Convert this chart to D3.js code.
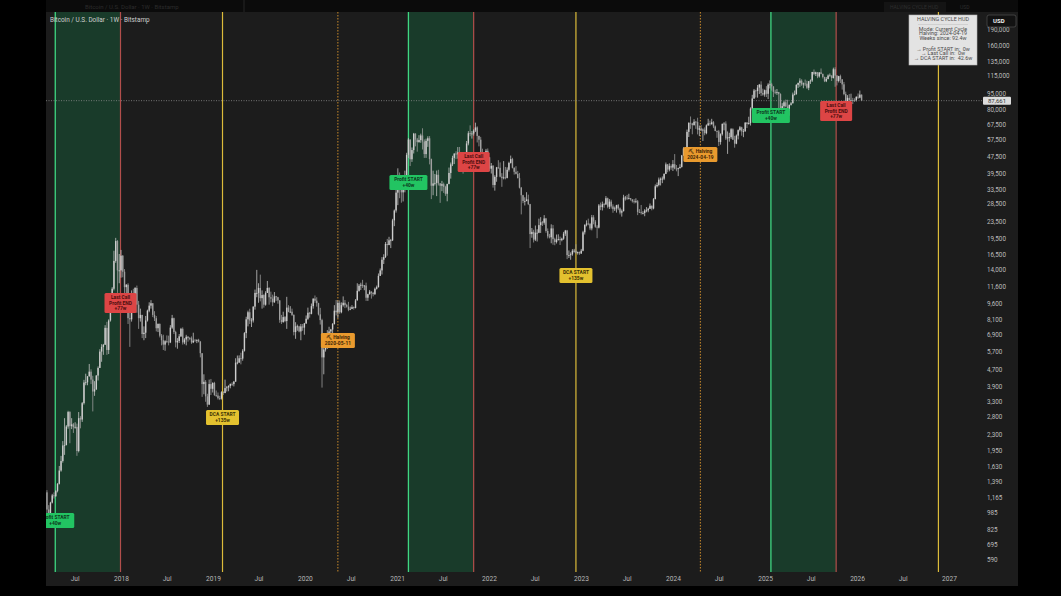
<!DOCTYPE html>
<html><head><meta charset="utf-8">
<script src="https://cdn.jsdelivr.net/npm/d3@7"></script>
<style>
html,body{margin:0;padding:0;background:#000;overflow:hidden}
svg{display:block}
text{font-family:Roboto,"Liberation Sans","DejaVu Sans",sans-serif}
</style>
</head><body>
<svg id="c" width="1061" height="596"></svg>
<script>
// ---------------- DATA ----------------
const title = "Bitcoin / U.S. Dollar · 1W · Bitstamp";
const firstWeek = "2017-03-13";   // Monday of first weekly candle
const firstOpen = 1230;

// weekly closes (USD), 2017-03-13 .. 2026-01-19
const closes = [
 1020,965,1100,1190,1180,1250,1350,1560,1730,2050,2060,2520,2950,2530,2580,2500,2510,1930,2760,2720,3250,4070,4080,4350,4580,4200,3690,3780,4390,4770,5700,6000,6140,7380,5800,8000,9700,11300,15300,19000,13800,13800,
 16200,13600,11500,11800,8200,8100,10300,9600,11400,9500,8200,8500,6900,7000,8000,8900,9400,9650,8500,8200,7350,7700,6780,6450,6150,6380,6350,6300,7400,8200,7050,6300,6400,6730,7300,6300,6500,6700,6600,6580,6300,6420,6410,6480,6350,5600,4000,4100,3500,3200,4000,3800,4050,
 3550,3530,3430,3420,3660,3630,3830,3860,3920,4010,4000,4110,5050,5060,5300,5280,5750,6970,8100,8750,8000,8000,9300,10800,10800,11400,10200,10550,9500,10800,11400,10300,10150,9750,10400,10300,9950,8050,7870,8300,7950,9200,8800,8800,8500,7050,7500,7500,7100,7500,7400,7750,
 8150,8700,8600,9350,10150,9920,9660,8550,8030,5350,5830,6250,6780,7100,7250,7700,8900,8750,9700,8750,9450,9700,9450,9300,9000,9080,9250,9170,9950,11050,11680,11800,11650,11700,10250,10650,10950,10800,10660,11300,11500,13000,13800,15500,15950,18400,18200,19150,19150,23800,26500,32200,
 38200,36000,32300,34300,39000,48600,57400,46300,51200,61200,57400,55800,57100,60000,56200,49000,56600,58200,46400,34700,35600,35800,39100,35600,34700,35300,34300,31800,35400,39900,43800,47000,49300,48800,49900,48300,47300,42700,48200,55000,61500,60900,61300,63300,65500,59700,57300,49400,48900,46700,50800,47300,
 41800,43100,35000,38200,42400,42200,38300,37700,38000,37800,41300,44500,46400,42200,40400,39500,37700,34000,31300,29400,29400,29900,28400,20500,21000,19300,20800,20800,22600,23300,23200,24300,21200,20000,19800,21800,19400,18800,19300,19400,19200,19500,20600,21300,16300,16300,16450,17100,17100,16750,16850,16600,
 17100,20900,22700,23000,22900,21800,24600,23500,22200,22000,28000,27500,28400,28300,30300,27600,29200,27700,26900,27100,28100,27100,25900,26300,30500,30500,30200,30300,29900,29300,29100,29300,26100,26000,25800,25800,26500,26550,27000,27900,27100,30000,34500,35000,37100,37400,37500,39500,43800,41400,43000,42300,
 43900,41800,41600,42000,42600,48300,52100,51700,62400,68900,68400,67200,69700,69400,63900,64900,63400,63900,61500,67000,68500,67800,69300,66200,63000,62700,55900,60800,68100,68300,58100,58700,58900,64200,57300,54900,59900,63600,65600,62800,62900,69000,68000,68700,80400,89800,97900,97400,101100,104400,95200,93700,98300,
 94500,104400,104700,102400,96500,96100,96300,94200,80600,82600,86100,82400,78400,83800,85200,93700,94300,104100,106400,109000,104700,105700,105500,100900,108400,109200,119800,117300,119400,114200,119300,117400,113500,108300,111100,115300,115300,112200,123500,115200,108700,114500,110600,104700,94200,86800,90400,88200,88200,88100,87800,91500,
 90600,93600,87661
];
const highs = [
 1260,1070,1110,1210,1230,1260,1360,1640,1830,2150,2760,2560,2990,2980,2760,2620,2640,2600,2950,2820,3290,4190,4480,4370,4980,4700,4380,4130,4410,4850,5850,6180,6200,7600,7880,8100,9750,11500,17100,19670,19200,16500,
 17250,16300,14000,11900,12000,9000,11100,11300,11500,11700,9900,9100,8500,7500,8400,9000,9750,9980,9650,8850,8400,7750,7750,6900,6850,6450,6800,6780,7600,8500,8250,7150,6600,6900,7380,7420,6600,6840,6750,6680,6720,7000,6540,6500,6550,6400,5600,4450,4180,3600,4200,4230,4080,
 4100,3730,3650,3520,3700,3700,4200,3920,3950,4020,4080,4140,5300,5460,5470,5630,5850,7050,8330,8900,9090,8200,9330,11200,13880,12000,13180,11100,10650,11000,12300,11500,10950,10600,10900,10450,10350,10000,8500,8800,8400,10350,9450,9350,9100,8550,7850,7650,7550,7700,7700,7790,
 8450,9200,8780,9620,10170,10500,10300,9700,9180,8150,6900,6950,7200,7470,7300,7780,9450,10000,9950,9950,9740,10400,10000,9590,9800,9300,9450,9320,10100,12000,11900,12070,12450,11750,12080,10700,11150,11000,10920,11450,11700,13350,14100,15950,16450,18800,19450,19900,19450,24200,26800,33300,
 41950,40100,37850,38550,40900,49700,58350,57500,52650,61700,61500,58400,60200,61200,64900,57500,57950,59500,59600,46650,40900,39450,40950,41300,35750,36600,35900,34700,35450,42300,44700,48100,49350,50500,52900,52950,48800,47350,49200,56500,62900,67000,63000,64200,69000,66300,59900,59100,51950,50000,51850,52100,
 47500,44450,43500,38900,42600,45850,44750,39800,45400,42600,42400,45100,48200,47050,42400,42950,40800,39900,34250,31450,30600,32350,31500,28500,21900,21500,22500,21600,24250,24650,23650,25200,24450,21800,20550,22800,22650,19700,20400,20450,19950,19700,21000,21450,21450,17150,16800,17400,17450,18350,16950,16950,
 17450,21250,22750,23800,24250,23150,25250,25200,23900,22600,28450,28900,29200,28800,31000,30500,30000,29800,28350,27650,28200,28450,27400,26800,31450,31050,31400,31800,30350,29950,30000,30250,29700,26900,28150,26300,26900,27500,27300,28600,28000,30350,35200,35950,37950,37950,38400,39700,44700,43950,44300,43800,
 45900,49000,43500,42250,43850,48550,52850,52900,64000,69200,73800,68900,71650,70300,72800,66850,67200,64750,65500,67700,71950,70600,71950,70200,66950,63400,63750,61400,68350,69350,70000,62700,61800,65000,64900,59800,60650,64100,66500,66000,64450,69400,69500,73600,81500,93450,99600,98700,104000,105200,108300,99900,99000,
 102700,106000,109350,106450,102500,98800,99500,96500,95000,85300,87450,88750,88500,84000,86500,95750,97900,104900,106650,111900,110700,106800,110400,108900,108500,110500,120000,123200,120200,119800,119450,124500,117600,113800,113400,116700,117900,115500,125600,126200,116000,114900,116400,110800,107500,96700,93100,94200,94600,90400,90000,91800,
 94800,97900,93800
];
const lows = [
 930,890,940,1090,1150,1170,1230,1340,1540,1700,1850,2050,2460,2100,2450,2350,2460,1830,1900,2470,2650,3200,3950,3950,4350,4000,2970,3520,3750,4160,4770,5100,5500,6130,5500,5550,7900,9000,11100,15000,10800,12000,
 12750,12800,9000,10000,7700,6000,7900,9300,9400,8700,7300,7900,6600,6450,6600,7900,8750,9100,8300,7950,7100,7050,6650,6100,5800,5750,6250,6100,6250,7300,6900,5970,5880,6260,6680,6150,6180,6100,6350,6450,6200,6250,6390,6250,6300,5350,3480,3580,3300,3120,3190,3550,3650,
 3520,3480,3380,3360,3380,3550,3620,3690,3700,3820,3920,3900,4100,4960,5030,4960,5160,5700,6600,7500,7700,7450,7820,9000,10300,9700,9850,9100,9200,9400,10800,9500,9750,9350,9700,9900,9600,7800,7700,7800,7850,7300,8750,8700,8400,6800,6550,7150,7030,6450,7150,6850,
 7700,8050,8250,8550,9100,9700,9300,8450,7650,3850,4450,5700,5860,6750,6500,6800,7650,8450,8200,8600,8650,9300,9150,9200,8850,8950,9050,9000,9120,9950,10950,11150,11400,11120,9900,9900,10600,10150,10400,10550,11200,11450,12980,13200,14800,15800,16200,18150,17600,19000,22350,25900,
 28100,30300,28850,29250,32300,37400,47000,43000,45000,49300,53300,50300,55500,55400,51500,47000,47000,53000,43800,30000,31300,34800,31000,34800,28800,32700,32100,31100,29300,35250,37500,43000,43950,46400,46600,43000,44700,39600,40800,47100,53900,59500,58000,59900,62300,55600,53300,42000,47100,45600,45600,45750,
 40600,39650,34000,32900,36250,41700,38000,34300,37200,37200,37600,40500,44200,41900,39200,39250,37600,33700,25400,28700,28000,29300,28100,17600,19700,18700,19000,18900,20700,20750,22400,22700,20800,19550,19550,18550,18250,18150,18500,19100,18200,18950,19250,20100,15600,15800,15500,16200,16750,16550,16400,16350,
 16500,17000,20400,22300,22550,21400,21350,22800,21950,19600,21800,26600,26500,27300,28200,27150,26950,27050,25850,26350,25900,26600,25400,24800,26250,29550,29750,29900,29500,28900,28600,28700,25200,25800,25350,25400,24900,26000,26000,26950,26550,26850,29950,34050,34500,34800,35700,36900,39400,40200,40600,41300,
 40750,41500,40600,38550,41900,42300,48100,50650,51000,59000,64500,60800,66800,64500,60700,59600,62800,56500,60150,60800,66600,66700,67600,65000,62800,58500,53500,54300,59900,63450,57100,49100,56100,57800,57200,52550,54550,57500,62650,59850,58900,62400,65100,67500,66850,78900,89400,90800,90600,94300,92200,92500,91500,
 91200,89250,100100,97800,91200,94100,93400,78200,79900,76600,81150,81600,77100,74500,83100,85100,92800,93400,100700,102000,103100,100400,102700,99600,98300,105200,107500,115800,114700,112000,112700,116800,111700,107300,107300,110600,114400,108600,111600,102000,103500,106900,106300,98900,93000,80600,85300,83800,87500,84500,86500,86900,
 89300,90000,87300
];
const lastPrice = 87661;

// halving cycle markers
const halvingDates   = ["2020-05-11","2024-04-19"];
const profitStarts   = ["2017-04-15","2021-02-15","2025-01-24"];
const lastCalls      = ["2017-12-30","2021-11-01","2025-10-10"];
const dcaStarts      = ["2019-02-08","2022-12-12","2026-11-20"];

// chart labels
const labelDates  = ["2017-04-15","2017-12-30","2019-02-08","2020-05-11","2021-02-15","2021-11-01","2022-12-12","2024-04-19","2025-01-24","2025-10-10"];
const labelKinds  = ["profit","last","dca","halving","profit","last","dca","halving","profit","last"];
const labelPrices = [982,10790,3016,6980,39000,50100,14160,52900,80900,87350];
const labelTexts  = [
  ["Profit START","+40w"],["Last Call","Profit END","+77w"],["DCA START","+135w"],["⛏ Halving","2020-05-11"],
  ["Profit START","+40w"],["Last Call","Profit END","+77w"],["DCA START","+135w"],["⛏ Halving","2024-04-19"],
  ["Profit START","+40w"],["Last Call","Profit END","+77w"]
];

// axes
const yTicks = [190000,160000,135000,115000,95000,80000,67500,57500,47500,39500,33500,28500,23500,19500,16500,14000,11600,9600,8100,6900,5700,4700,3900,3300,2800,2300,1950,1630,1390,1165,985,825,695,590];
const xTickDates  = ["2017-07-01","2018-01-01","2018-07-01","2019-01-01","2019-07-01","2020-01-01","2020-07-01","2021-01-01","2021-07-01","2022-01-01","2022-07-01","2023-01-01","2023-07-01","2024-01-01","2024-07-01","2025-01-01","2025-07-01","2026-01-01","2026-07-01","2027-01-01"];
const xTickLabels = ["Jul","2018","Jul","2019","Jul","2020","Jul","2021","Jul","2022","Jul","2023","Jul","2024","Jul","2025","Jul","2026","Jul","2027"];

const hudLines = ["HALVING CYCLE HUD","","Mode: Current Cycle","Halving: 2024-04-19","Weeks since: 92.4w","","→ Profit START in:  0w","→ Last Call in:  0w","→ DCA START in:  42.6w"];

// ---------------- LAYOUT ----------------
const P = {l:46, r:982, t:12, b:572};
const svg = d3.select("#c");
const parse = s => new Date(s + "T00:00:00Z");

const x = d3.scaleUtc().domain([parse("2018-01-01"), parse("2027-01-01")]).range([121, 949]);
const y = d3.scaleLog().domain([95000, 590]).range([93.3, 559.8]);

// backgrounds
svg.append("rect").attr("width",1061).attr("height",596).attr("fill","#000");
svg.append("rect").attr("x",46).attr("y",12).attr("width",972).attr("height",574).attr("fill","#1c1c1c");

// faint top ghost strip
const topG = svg.append("g");
topG.append("rect").attr("x",46).attr("y",0).attr("width",972).attr("height",12).attr("fill","#0b0b0b");
topG.append("text").attr("x",85).attr("y",8.5).attr("font-size",6).attr("fill","#2c2c2c").text(title);
topG.append("line").attr("x1",244).attr("x2",244).attr("y1",0).attr("y2",12).attr("stroke","#262626");
topG.append("rect").attr("x",884).attr("y",2).attr("width",62).attr("height",10).attr("fill","#141414");
topG.append("text").attr("x",890).attr("y",9).attr("font-size",5).attr("fill","#2e2e2e").text("HALVING CYCLE HUD");
topG.append("text").attr("x",960).attr("y",9).attr("font-size",5).attr("fill","#2e2e2e").text("USD");

svg.append("defs").append("clipPath").attr("id","plot")
  .append("rect").attr("x",P.l).attr("y",P.t).attr("width",P.r-P.l).attr("height",P.b-P.t);
const plot = svg.append("g").attr("clip-path","url(#plot)");

// green zones
plot.selectAll("rect.zone").data(profitStarts).join("rect").attr("class","zone")
  .attr("x", d => x(parse(d)))
  .attr("width", (d,i) => x(parse(lastCalls[i])) - x(parse(d)))
  .attr("y",P.t).attr("height",P.b-P.t).attr("fill","#193b2a");

// vertical lines
const vline = (dates, color, dash, w) => plot.append("g").selectAll("line").data(dates).join("line")
  .attr("x1", d => x(parse(d))).attr("x2", d => x(parse(d)))
  .attr("y1",P.t).attr("y2",P.b).attr("stroke",color).attr("stroke-width",w)
  .attr("stroke-dasharray",dash);
vline(halvingDates, "#c98a2c", "1.5,1.5", 1);
vline(profitStarts, "#3fd782", null, 1.3);
vline(lastCalls, "#b24e4b", null, 1.2);
vline(dcaStarts, "#dcbb3a", null, 1.2);

// candles
const start = parse(firstWeek);
const bars = closes.map((c,i) => ({
  d: d3.utcDay.offset(start, 7*i),
  o: i ? closes[i-1] : firstOpen, c, h: highs[i], l: lows[i]
}));
const cg = plot.append("g");
cg.selectAll("line").data(bars).join("line")
  .attr("x1", b => x(b.d)).attr("x2", b => x(b.d))
  .attr("y1", b => y(b.h)).attr("y2", b => y(b.l))
  .attr("stroke", b => b.c >= b.o ? "#c4c4c4" : "#9a9a9a").attr("stroke-width",0.8);
cg.selectAll("rect").data(bars).join("rect")
  .attr("x", b => x(b.d) - 0.7).attr("width",1.4)
  .attr("y", b => y(Math.max(b.o,b.c)))
  .attr("height", b => Math.max(0.8, Math.abs(y(b.o) - y(b.c))))
  .attr("fill", b => b.c >= b.o ? "#cdcdcd" : "#a0a0a0");

// last price line
plot.append("line").attr("x1",P.l).attr("x2",P.r).attr("y1",y(lastPrice)).attr("y2",y(lastPrice))
  .attr("stroke","#8a8a8a").attr("stroke-width",0.8).attr("stroke-dasharray","1,1.5");

// labels
const kindStyle = {
  profit: {fill:"#22c462", w:38, text:"#0d3b1f"},
  last:   {fill:"#dd4545", w:32, text:"#4a0d0d"},
  dca:    {fill:"#e3c12f", w:33, text:"#3d3205"},
  halving:{fill:"#e99a2e", w:34, text:"#3f2405"}
};
const lg = plot.append("g");
labelDates.forEach((d,i) => {
  const st = kindStyle[labelKinds[i]];
  const lines = labelTexts[i];
  const cx = x(parse(d)), ty = y(labelPrices[i]);
  const h = lines.length === 3 ? 20 : 15;
  const g = lg.append("g");
  g.append("rect").attr("x",cx - st.w/2).attr("y",ty).attr("width",st.w).attr("height",h)
    .attr("rx",1.5).attr("fill",st.fill);
  lines.forEach((t,k) => {
    g.append("text").attr("x",cx).attr("y", ty + (lines.length===3 ? 6.2 + k*5.6 : 6.4 + k*5.8))
      .attr("text-anchor","middle").attr("font-size",4.9).attr("font-weight","bold")
      .attr("fill",st.text).text(t);
  });
});

// title
svg.append("text").attr("x",50).attr("y",22).attr("font-size",6.4).attr("fill","#cfcfcf").text(title);

// y axis
const yAxis = d3.axisRight(y).tickValues(yTicks).tickSize(0).tickPadding(5)
  .tickFormat(d3.format(","));
const yg = svg.append("g").attr("transform",`translate(${P.r},0)`).call(yAxis);
yg.select(".domain").remove();
yg.selectAll("text").attr("font-size",6.3).attr("fill","#bdbdbd").attr("font-family","Roboto, 'Liberation Sans', sans-serif");

// x axis
const xAxis = d3.axisBottom(x).tickValues(xTickDates.map(parse)).tickSize(0).tickPadding(4)
  .tickFormat((d,i) => xTickLabels[i]);
const xg = svg.append("g").attr("transform",`translate(0,${P.b})`).call(xAxis);
xg.select(".domain").remove();
xg.selectAll("text").attr("font-size",6.6).attr("fill","#b8b8b8").attr("font-family","Roboto, 'Liberation Sans', sans-serif");

// last price tag
const py = y(lastPrice);
svg.append("rect").attr("x",983).attr("y",py-4).attr("width",28).attr("height",8).attr("rx",1).attr("fill","#dcdcdc");
svg.append("text").attr("x",997).attr("y",py+2.2).attr("text-anchor","middle").attr("font-size",6)
  .attr("fill","#333").text(d3.format(",")(lastPrice));

// USD button
svg.append("rect").attr("x",987).attr("y",15).attr("width",29).attr("height",12).attr("rx",2)
  .attr("fill","#121212").attr("stroke","#4a4a4a").attr("stroke-width",0.8);
svg.append("text").attr("x",993).attr("y",23.3).attr("font-size",6).attr("font-weight","bold")
  .attr("fill","#f0f0f0").text("USD");

// HUD
const hud = svg.append("g");
hud.append("rect").attr("x",909).attr("y",15).attr("width",68).attr("height",50).attr("fill","#e3e3e3")
  .attr("stroke","#b5b5b5").attr("stroke-width",0.6);
hud.append("line").attr("x1",918).attr("x2",968).attr("y1",24.5).attr("y2",24.5).attr("stroke","#bdbdbd").attr("stroke-width",0.5);
const hudY = [21,0,30.5,35,39.5,0,50.5,55,59.5];
hudLines.forEach((t,i) => {
  if (!t) return;
  hud.append("text").attr("x",943).attr("y",hudY[i]).attr("text-anchor","middle")
    .attr("font-size",5.4).attr("fill","#4a4a4a").style("white-space","pre").text(t);
});
</script>
</body></html>
